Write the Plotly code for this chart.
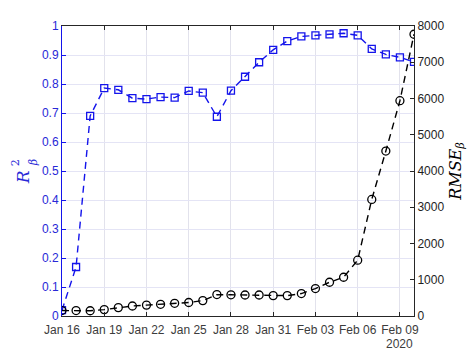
import plotly.graph_objects as go
import pandas as pd

dates = pd.date_range("2020-01-16", "2020-02-10", freq="D")
r2_beta = [0.02, 0.169, 0.690, 0.786, 0.780, 0.751, 0.748, 0.755, 0.753, 0.776,
           0.770, 0.687, 0.777, 0.825, 0.875, 0.918, 0.948, 0.964, 0.968, 0.971,
           0.975, 0.968, 0.921, 0.902, 0.892, 0.876]
rmse_beta = [150, 150, 145, 176, 232, 276, 301, 323, 350, 372,
             425, 591, 585, 580, 580, 563, 563, 619, 757, 931,
             1069, 1539, 3215, 4550, 5939, 7773]
tick_dates = pd.date_range("2020-01-16", "2020-02-09", freq="3D")
left_ticks = [0, 0.1, 0.2, 0.3, 0.4, 0.5, 0.6, 0.7, 0.8, 0.9, 1]
right_ticks = [0, 1000, 2000, 3000, 4000, 5000, 6000, 7000, 8000]

BLUE = "rgb(20,20,235)"
BLUE_TXT = "rgb(40,40,215)"
DARK = "rgb(38,38,38)"
TICKFONT = dict(family="Liberation Sans, Arial, sans-serif", size=12)
SERIF = "DejaVu Serif, serif"

fig = go.Figure()
fig.add_trace(go.Scatter(
    x=dates, y=r2_beta, mode="lines+markers", yaxis="y",
    line=dict(color=BLUE, width=1.4, dash="7px,5px"),
    marker=dict(symbol="square-open", size=7, color=BLUE, line=dict(width=1.3)),
    showlegend=False))
fig.add_trace(go.Scatter(
    x=dates, y=rmse_beta, mode="lines+markers", yaxis="y2",
    line=dict(color="black", width=1.4, dash="7px,5px"),
    marker=dict(symbol="circle-open", size=8, color="black", line=dict(width=1.3)),
    showlegend=False))

# left axis label R^2_beta built from stacked pieces (rotated)
def lbl(text, px_x, px_y, size):
    return dict(text=text, x=0, y=(315.7 - px_y) / 289.7, xref="paper", yref="paper",
                xshift=px_x - 62, showarrow=False, textangle=-90,
                xanchor="center", yanchor="middle",
                font=dict(family=SERIF, size=size, color=BLUE_TXT))

fig.update_layout(
    width=474, height=355,
    margin=dict(l=62, r=54, t=26, b=39),
    paper_bgcolor="white", plot_bgcolor="white",
    xaxis=dict(
        type="date",
        range=[pd.Timestamp("2020-01-16"), pd.Timestamp("2020-02-10")],
        tickvals=list(tick_dates), ticktext=[d.strftime("%b %d") for d in tick_dates],
        tickfont=dict(color="rgb(60,60,60)", **TICKFONT),
        ticklabelstandoff=3,
        showgrid=True, gridcolor="rgb(226,226,236)", gridwidth=1,
        showline=True, linecolor=DARK, linewidth=1, mirror="ticks",
        ticks="inside", ticklen=4, tickcolor=DARK, zeroline=False),
    yaxis=dict(
        range=[0, 1], tickvals=left_ticks,
        ticktext=[("%g" % v) for v in left_ticks],
        tickfont=dict(color=BLUE_TXT, **TICKFONT),
        showgrid=True, gridcolor="rgb(228,228,245)", gridwidth=1,
        showline=True, linecolor=BLUE, linewidth=1,
        ticks="inside", ticklen=4, tickcolor=BLUE, zeroline=False),
    yaxis2=dict(
        range=[0, 8000], tickvals=right_ticks,
        ticktext=[str(v) for v in right_ticks],
        overlaying="y", side="right",
        tickfont=dict(color="rgb(30,30,30)", **TICKFONT),
        showgrid=False, showline=True, linecolor=DARK, linewidth=1,
        ticks="inside", ticklen=4, tickcolor=DARK, zeroline=False,
        title=dict(text="<i>RMSE</i><sub><i>β</i></sub>",
                   font=dict(family=SERIF, size=16, color="black"),
                   standoff=6)),
    annotations=[
        dict(text="2020", x=pd.Timestamp("2020-02-09"), y=0,
             xref="x", yref="paper", yshift=-19, showarrow=False,
             xanchor="center", yanchor="top",
             font=dict(color="rgb(60,60,60)", **TICKFONT)),
        lbl("<i>R</i>", 23, 177, 17),
        lbl("2", 15, 163, 11),
        lbl("<i>β</i>", 33, 163, 11),
    ],
)

fig.write_html("out.html")
